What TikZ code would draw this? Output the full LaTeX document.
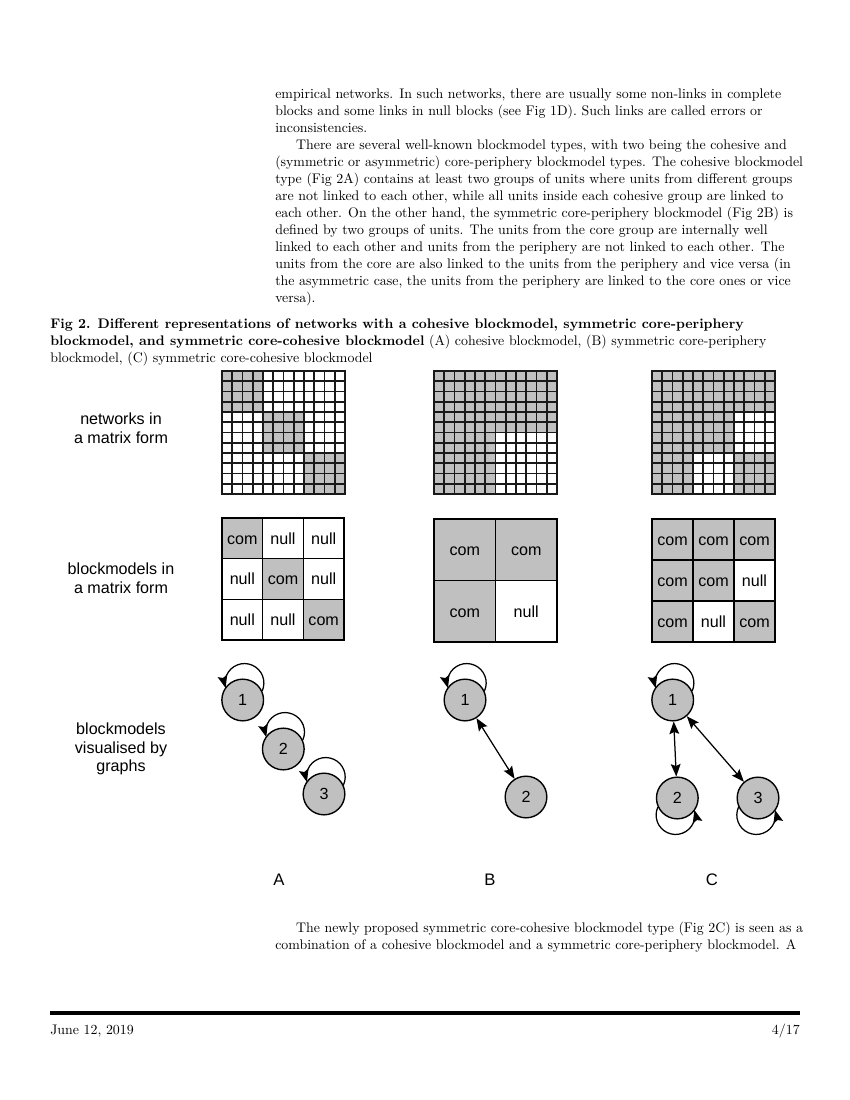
\documentclass[tikz,border=0pt]{standalone}
\usepackage{fontspec}
\newfontfamily\lsans{Liberation Sans}
\usetikzlibrary{arrows.meta}
\definecolor{cellgray}{RGB}{192,192,192}
\newcommand\netgrid[2]{%
  \foreach \k in {0,...,12}{%
    \draw[gridline] ({#1+\k*10.25},#2) -- ({#1+\k*10.25},{#2+123});
    \draw[gridline] (#1,{#2+\k*10.25}) -- ({#1+123},{#2+\k*10.25});
  }}
\begin{document}
\begin{tikzpicture}[x=0.72pt,y=-0.72pt,
  gridline/.style={line width=1.3pt, draw=black!90, line cap=rect},
  cellbox/.style={draw, line width=1pt, minimum size=29.3pt, inner sep=0pt, text height=8.4pt, text depth=0pt, font=\lsans\fontsize{11.6}{13}\selectfont},
  bigcell/.style={draw, line width=1pt, minimum size=44.3pt, inner sep=0pt, text height=8.4pt, text depth=0pt, font=\lsans\fontsize{11.6}{13}\selectfont},
  gnode/.style={circle, draw, line width=1pt, fill=cellgray, minimum size=30pt, inner sep=0pt, font=\lsans\fontsize{11.6}{13}\selectfont},
  rowlabel/.style={align=center, inner sep=0pt, font=\lsans\fontsize{11.6}{13.4}\selectfont},
  collabel/.style={inner sep=0pt, font=\lsans\fontsize{12}{14}\selectfont},
  tip/.tip={Stealth[length=9pt,width=7pt,inset=1.5pt]},
  arr/.style={-tip, line width=0.9pt},
  darr/.style={tip-tip, line width=0.9pt},
  serif/.style={inner sep=0pt, font=\fontsize{10}{12.24}\selectfont}
]
\useasboundingbox (0,0) rectangle (850,1100);
\fill[white] (0,0) rectangle (850,1100);

% ---- top paragraph text ----
\node[serif, anchor=base west] (para1) at (275,99) {\begin{minipage}[t]{380pt}\raggedright\fontsize{10}{12.24}\selectfont
empirical networks. In such networks, there are usually some non-links in complete\\
blocks and some links in null blocks (see Fig 1D). Such links are called errors or\\
inconsistencies.\\
\hspace*{15pt}There are several well-known blockmodel types, with two being the cohesive and\\
(symmetric or asymmetric) core-periphery blockmodel types. The cohesive blockmodel\\
type (Fig 2A) contains at least two groups of units where units from different groups\\
are not linked to each other, while all units inside each cohesive group are linked to\\
each other. On the other hand, the symmetric core-periphery blockmodel (Fig 2B) is\\
defined by two groups of units. The units from the core group are internally well\\
linked to each other and units from the periphery are not linked to each other. The\\
units from the core are also linked to the units from the periphery and vice versa (in\\
the asymmetric case, the units from the periphery are linked to the core ones or vice\\
versa).\end{minipage}};

% ---- caption ----
\node[serif, anchor=base west] (caption) at (50,328) {\begin{minipage}[t]{545pt}\raggedright\fontsize{10}{12.24}\selectfont
\textbf{Fig 2. Different representations of networks with a cohesive blockmodel, symmetric core-periphery}\\
\textbf{blockmodel, and symmetric core-cohesive blockmodel} (A) cohesive blockmodel, (B) symmetric core-periphery\\
blockmodel, (C) symmetric core-cohesive blockmodel\end{minipage}};

% ---- row labels ----
\node[rowlabel] (lab1) at (121,428) {networks in\\a matrix form};
\node[rowlabel] (lab2) at (121,578) {blockmodels in\\a matrix form};
\node[rowlabel] (lab3) at (121,749) {blockmodels\\visualised by\\graphs};

% ---- network matrices ----
% A
\fill[cellgray] (222,371) rectangle (263,412);
\fill[cellgray] (263,412) rectangle (304,453);
\fill[cellgray] (304,453) rectangle (345,494);
\netgrid{222}{371}
% B
\fill[cellgray] (434,371) rectangle (557,494);
\fill[white] (495.5,432.5) rectangle (557,494);
\netgrid{434}{371}
% C
\fill[cellgray] (652,371) rectangle (775,494);
\fill[white] (734,412) rectangle (775,453);
\fill[white] (693,453) rectangle (734,494);
\netgrid{652}{371}

% ---- blockmodel matrices ----
% A
\node[cellbox, fill=cellgray] (am11) at (242.3,538.3) {com};
\node[cellbox] (am12) at (283,538.3) {null};
\node[cellbox] (am13) at (323.7,538.3) {null};
\node[cellbox] (am21) at (242.3,579) {null};
\node[cellbox, fill=cellgray] (am22) at (283,579) {com};
\node[cellbox] (am23) at (323.7,579) {null};
\node[cellbox] (am31) at (242.3,619.7) {null};
\node[cellbox] (am32) at (283,619.7) {null};
\node[cellbox, fill=cellgray] (am33) at (323.7,619.7) {com};
% B
\node[bigcell, fill=cellgray] (bm11) at (464.75,549.75) {com};
\node[bigcell, fill=cellgray] (bm12) at (526.25,549.75) {com};
\node[bigcell, fill=cellgray] (bm21) at (464.75,611.25) {com};
\node[bigcell] (bm22) at (526.25,611.25) {null};
% C
\node[cellbox, fill=cellgray] (cm11) at (672.5,539.5) {com};
\node[cellbox, fill=cellgray] (cm12) at (713.5,539.5) {com};
\node[cellbox, fill=cellgray] (cm13) at (754.5,539.5) {com};
\node[cellbox, fill=cellgray] (cm21) at (672.5,580.5) {com};
\node[cellbox, fill=cellgray] (cm22) at (713.5,580.5) {com};
\node[cellbox] (cm23) at (754.5,580.5) {null};
\node[cellbox, fill=cellgray] (cm31) at (672.5,621.5) {com};
\node[cellbox] (cm32) at (713.5,621.5) {null};
\node[cellbox, fill=cellgray] (cm33) at (754.5,621.5) {com};

% ---- graphs ----
% A
\node[gnode] (a1) at (242.7,700) {1};
\node[gnode] (a2) at (283.3,749) {2};
\node[gnode] (a3) at (324,794) {3};
\foreach \n in {a1,a2,a3}{
  \draw[arr] (\n.25) arc[start angle=-24, end angle=195, radius=14pt];
}
% B
\node[gnode] (b1) at (465,700) {1};
\node[gnode] (b2) at (526,797) {2};
\draw[arr] (b1.25) arc[start angle=-24, end angle=195, radius=14pt];
\draw[darr] (b1) -- (b2);
% C
\node[gnode] (c1) at (672.7,700) {1};
\node[gnode] (c2) at (677.3,798) {2};
\node[gnode] (c3) at (758,798) {3};
\draw[arr] (c1.25) arc[start angle=-24, end angle=195, radius=14pt];
\draw[darr] (c1) -- (c2);
\draw[darr] (c1) -- (c3);
\draw[arr] (c2.205) arc[start angle=156, end angle=375, radius=14pt];
\draw[arr] (c3.205) arc[start angle=156, end angle=375, radius=14pt];

% ---- column labels ----
\node[collabel] (colA) at (279,880) {A};
\node[collabel] (colB) at (490,880) {B};
\node[collabel] (colC) at (712,880) {C};

% ---- bottom paragraph ----
\node[serif, anchor=base west] (para2) at (275,932) {\begin{minipage}[t]{380pt}\raggedright\fontsize{10}{12.24}\selectfont
\hspace*{15pt}The newly proposed symmetric core-cohesive blockmodel type (Fig 2C) is seen as a\\
combination of a cohesive blockmodel and a symmetric core-periphery blockmodel. A
\end{minipage}};

% ---- footer ----
\coordinate (ruleL) at (50,1013);
\coordinate (ruleR) at (800,1013);
\draw[line width=2.4pt] (ruleL) -- (ruleR);
\node[serif, anchor=base west] (date) at (50,1034) {June 12, 2019};
\node[serif, anchor=base east] (page) at (800,1034) {4/17};
\end{tikzpicture}
\end{document}
